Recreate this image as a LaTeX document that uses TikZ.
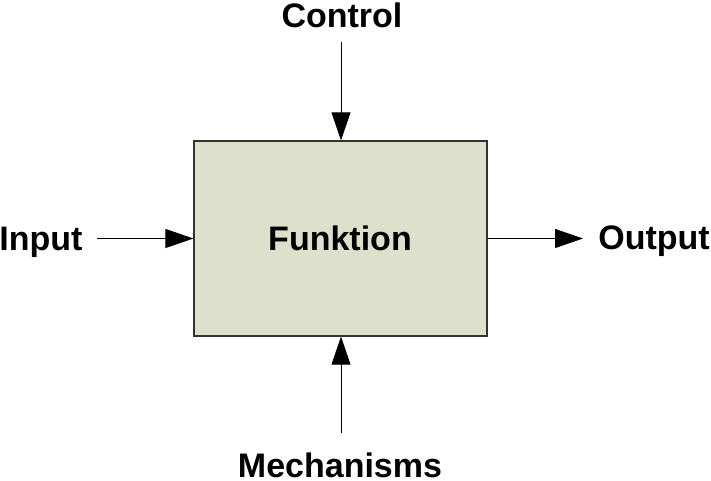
\documentclass[tikz,border=0pt]{standalone}
\usepackage{fontspec}
\setmainfont{Liberation Sans}
\usetikzlibrary{arrows.meta}
\definecolor{boxfill}{HTML}{DDE0CB}
\definecolor{boxline}{HTML}{333333}

\begin{document}
\begin{tikzpicture}[x=1pt,y=-1pt,
  lbl/.style={anchor=base,inner sep=0pt,font=\fontsize{34}{40}\selectfont\bfseries},
  arr/.style={line width=0.9pt,-{Triangle[length=28pt,width=19pt]}}]
\useasboundingbox (0,0) rectangle (711,481);
% box
\node[draw=boxline,line width=1.2pt,fill=boxfill,minimum width=293pt,minimum height=195pt,inner sep=0pt] (fkt) at (340.5,238.5) {};
\node[lbl] (fktlbl) at (340,250) {Funktion};
% labels
\node[lbl] (ctrl) at (342,28) {Control};
\node[lbl] (inp) at (41,250) {Input};
\node[lbl] (outp) at (654,249) {Output};
\node[lbl] (mech) at (340,477) {Mechanisms};
% free ends of the arrows
\coordinate (ctrlend) at (341,42);
\coordinate (inpend) at (97,238.5);
\coordinate (outpend) at (583,238.5);
\coordinate (mechend) at (341,433);
\draw[arr] (ctrlend) -- (ctrlend |- fkt.north);
\draw[arr] (inpend) -- (fkt.west);
\draw[arr] (fkt.east) -- (outpend);
\draw[arr] (mechend) -- (mechend |- fkt.south);
\end{tikzpicture}
\end{document}
